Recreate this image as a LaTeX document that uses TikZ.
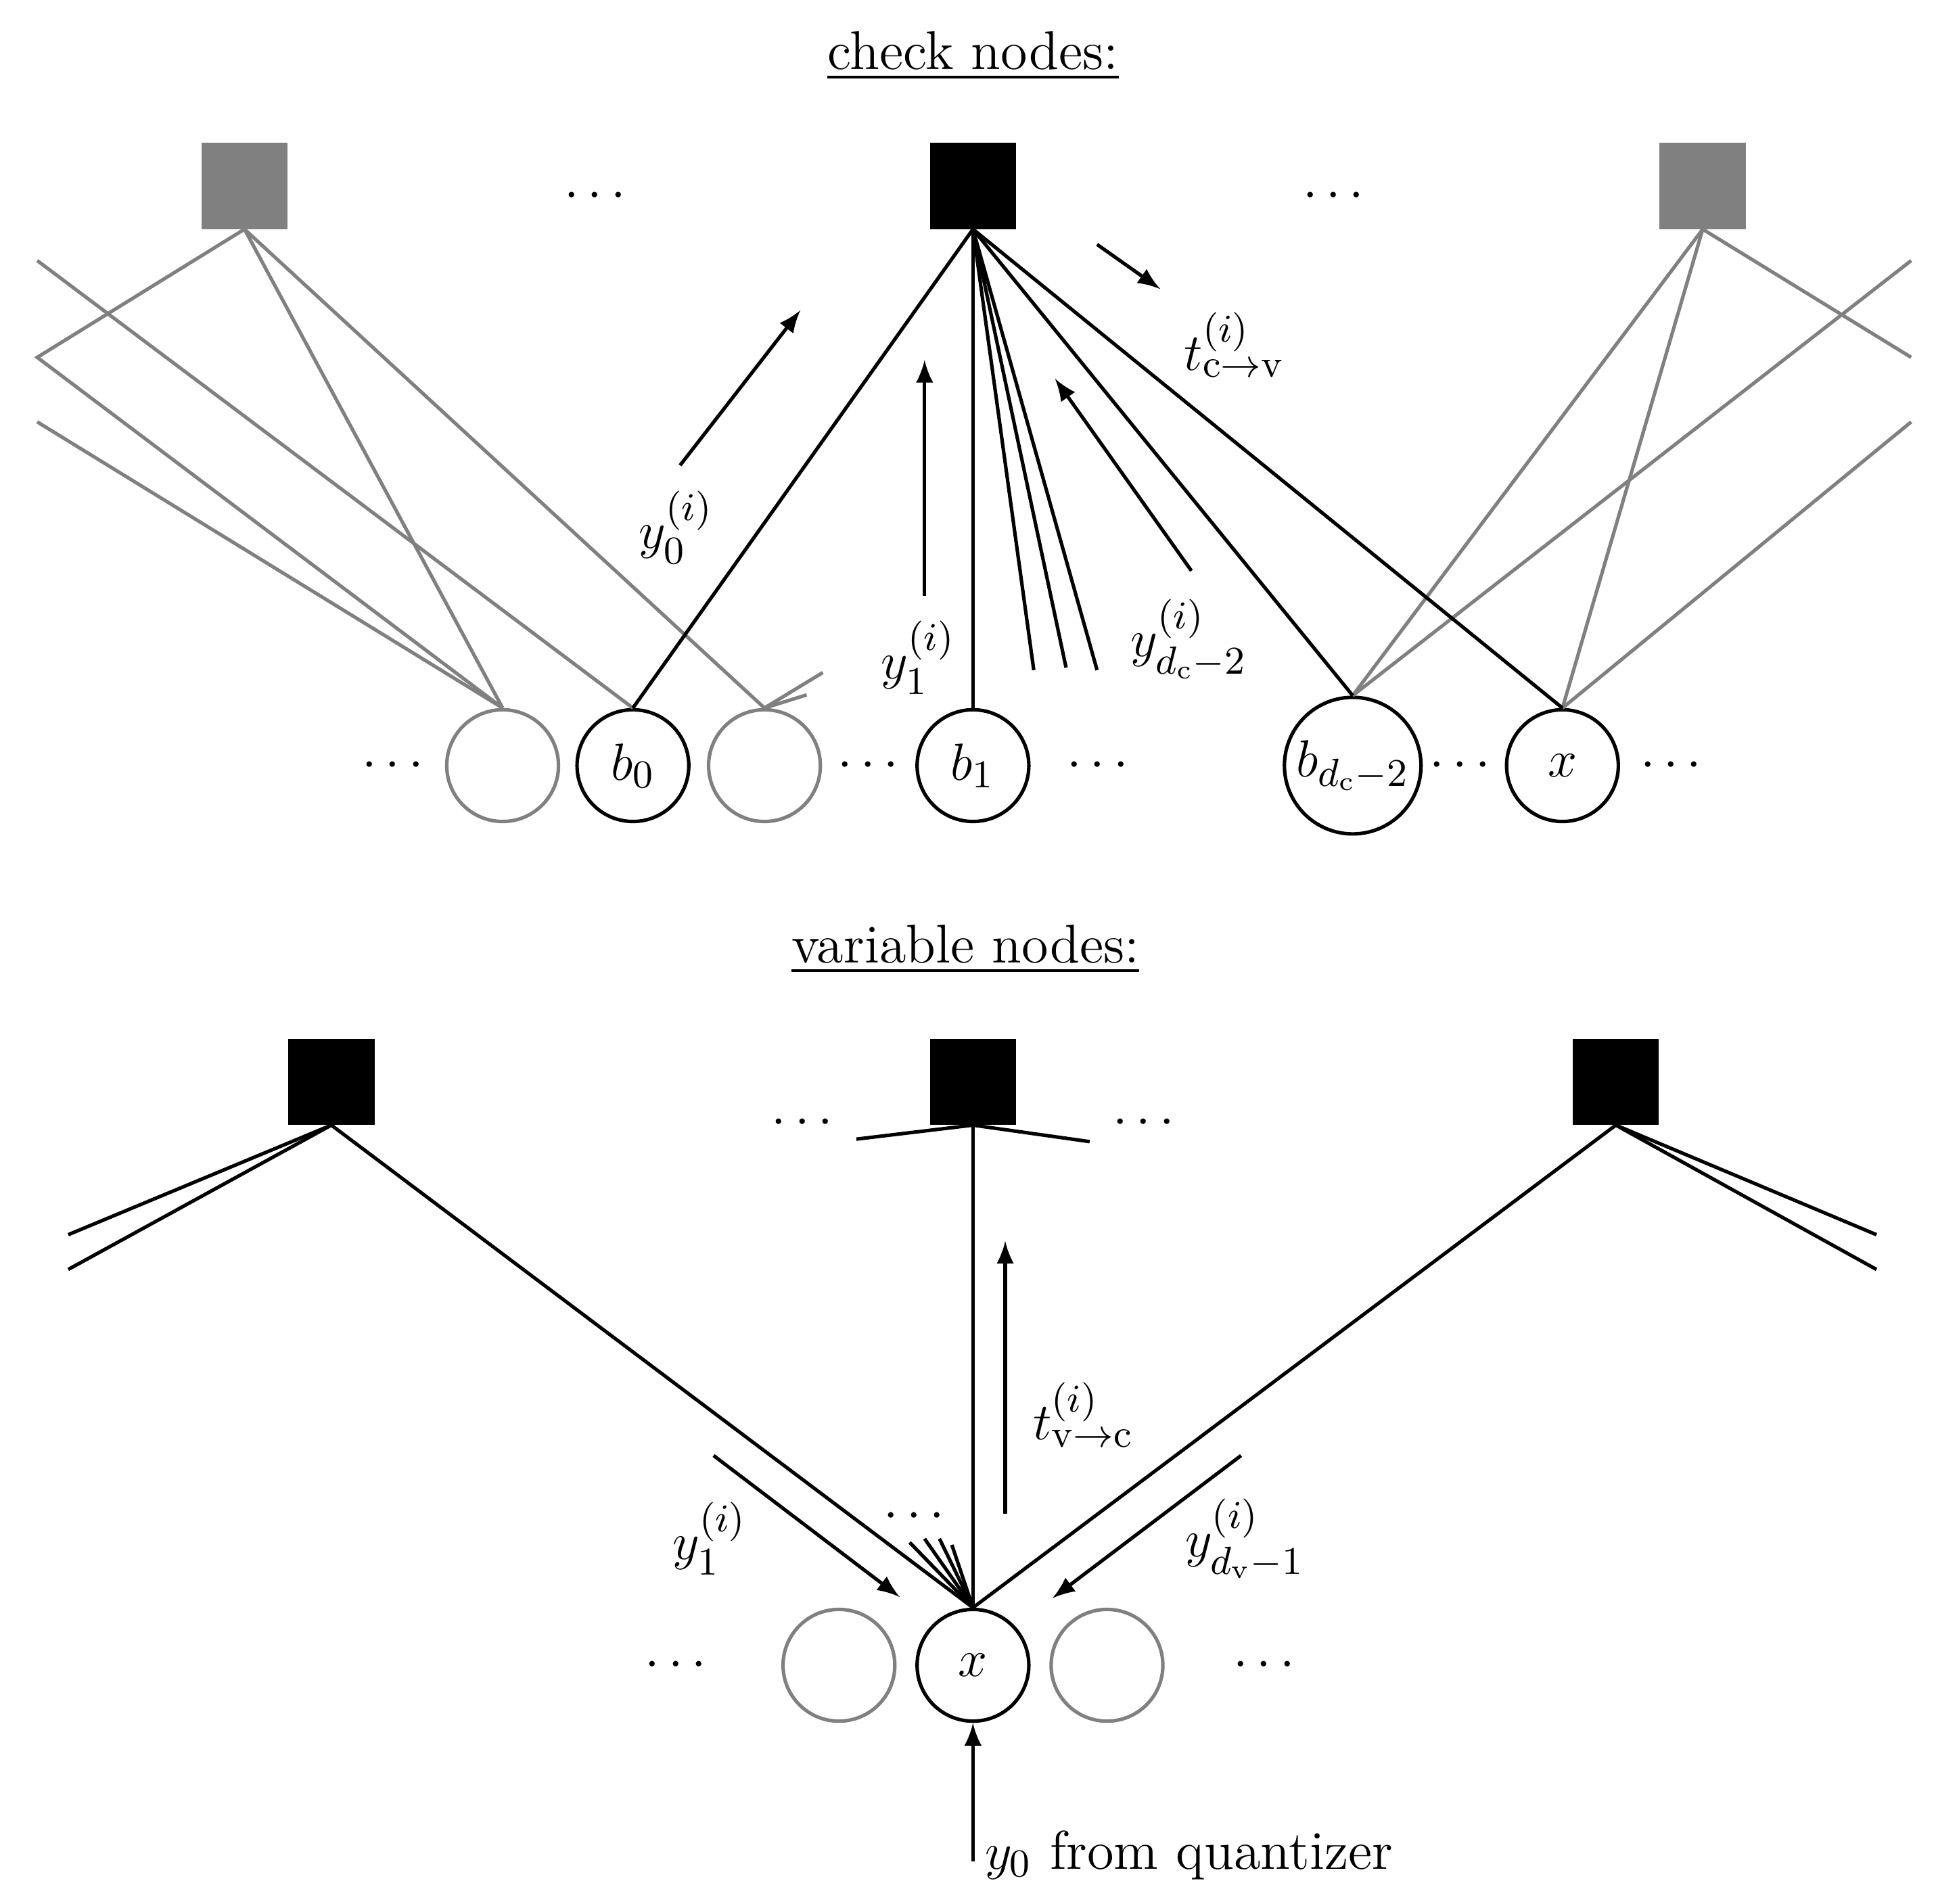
\documentclass[tikz,border=0pt]{standalone}
\usepackage{amsmath}
\begin{document}
\begin{tikzpicture}[x=0.01cm,y=-0.01cm,font=\fontsize{12.5}{15}\selectfont,
  chk/.style={draw,fill=black,minimum size=0.68cm,inner sep=0pt},
  gchk/.style={draw=gray,fill=gray,minimum size=0.68cm,inner sep=0pt},
  var/.style={circle,draw,thick,minimum size=0.9cm,inner sep=0pt},
  gvar/.style={circle,draw=gray,thick,minimum size=0.9cm,inner sep=0pt},
  ed/.style={thick},
  ged/.style={gray,thick},
  msg/.style={thick,-latex}]
\useasboundingbox (0,0) rectangle (1560,1534);
% ---------- check nodes
\node at (784,45) {\underline{check nodes:}};
\node[gchk] (c1) at (197,150) {};
\node[chk] (c2) at (784,150) {};
\node[gchk] (c3) at (1372,150) {};
\node at (483,158) {$\cdots$};
\node at (1078,158) {$\cdots$};
\node[gvar] (g1) at (405,617) {};
\node[var] (b0) at (510,617) {$b_0$};
\node[gvar] (g2) at (616,617) {};
\node[var] (b1) at (784,617) {$b_1$};
\node[var,minimum size=1.1cm] (bd) at (1090,617) {$b_{d_{\mathrm{c}}-2}$};
\node[var] (x1) at (1259,617) {$x$};
\node at (320,617) {$\cdots$};
\node at (703,617) {$\cdots$};
\node at (888,617) {$\cdots$};
\node at (1180,617) {$\cdots$};
\node at (1350,617) {$\cdots$};
\coordinate (l1) at (30,210);
\coordinate (l2) at (30,288);
\coordinate (l3) at (30,340);
\coordinate (r1) at (1540,210);
\coordinate (r2) at (1540,288);
\coordinate (r3) at (1540,340);
\draw[ged] (c1.south) -- (l2) -- (g1.north);
\draw[ged] (l1) -- (b0.north);
\draw[ged] (l3) -- (g1.north);
\draw[ged] (c1.south) -- (g1.north);
\draw[ged] (c1.south) -- (g2.north);
\draw[ged] (g2.north) -- (663,542);
\draw[ged] (g2.north) -- (650,560);
\draw[ged] (c3.south) -- (bd.north);
\draw[ged] (c3.south) -- (x1.north);
\draw[ged] (c3.south) -- (r2);
\draw[ged] (r1) -- (bd.north);
\draw[ged] (r3) -- (x1.north);
\draw[ed] (c2.south) -- (b0.north);
\draw[ed] (c2.south) -- (b1.north);
\draw[ed] (c2.south) -- (bd.north);
\draw[ed] (c2.south) -- (x1.north);
\coordinate (e1) at (833,540);
\coordinate (e2) at (859,538);
\coordinate (e3) at (884,540);
\draw[ed] (c2.south) -- (e1);
\draw[ed] (c2.south) -- (e2);
\draw[ed] (c2.south) -- (e3);
\draw[msg] (548,375) -- (645,250);
\draw[msg] (745,480) -- (745,290);
\draw[msg] (960,460) -- (850,305);
\draw[msg] (884,197) -- (935,233);
\node at (545,425) {$y_0^{(i)}$};
\node at (740,530) {$y_1^{(i)}$};
\node at (958,515) {$y_{d_{\mathrm{c}}-2}^{(i)}$};
\node at (995,278) {$t_{\mathrm{c}\to\mathrm{v}}^{(i)}$};
% ---------- variable nodes
\node at (778,765) {\underline{variable nodes:}};
\node[chk] (d1) at (267,872) {};
\node[chk] (d2) at (784,872) {};
\node[chk] (d3) at (1302,872) {};
\node at (650,905) {$\cdots$};
\node at (925,905) {$\cdots$};
\node[gvar] (h1) at (676,1342) {};
\node[var] (x2) at (784,1342) {$x$};
\node[gvar] (h2) at (892,1342) {};
\node at (548,1342) {$\cdots$};
\node at (1022,1342) {$\cdots$};
\draw[ed] (d2.south) -- (690,918);
\draw[ed] (d2.south) -- (878,920);
\draw[ed] (d2.south) -- (x2.north);
\draw[ed] (d1.south) -- (55,995);
\draw[ed] (d1.south) -- (55,1023);
\draw[ed] (d1.south) -- (x2.north);
\draw[ed] (d3.south) -- (1512,995);
\draw[ed] (d3.south) -- (1512,1023);
\draw[ed] (d3.south) -- (x2.north);
\draw[ed] (x2.north) -- (733,1243);
\draw[ed] (x2.north) -- (745,1240);
\draw[ed] (x2.north) -- (757,1240);
\draw[ed] (x2.north) -- (767,1245);
\node at (740,1222) {$\cdots$};
\draw[msg] (575,1173) -- (725,1287);
\draw[msg] (810,1220) -- (810,1000);
\draw[msg] (1000,1173) -- (848,1288);
\node at (572,1240) {$y_1^{(i)}$};
\node at (873,1140) {$t_{\mathrm{v}\to\mathrm{c}}^{(i)}$};
\node at (1003,1240) {$y_{d_{\mathrm{v}}-1}^{(i)}$};
\coordinate (q) at (784,1500);
\draw[msg] (q) -- (x2.south);
\node at (958,1495) {$y_0$ from quantizer};
\end{tikzpicture}
\end{document}
